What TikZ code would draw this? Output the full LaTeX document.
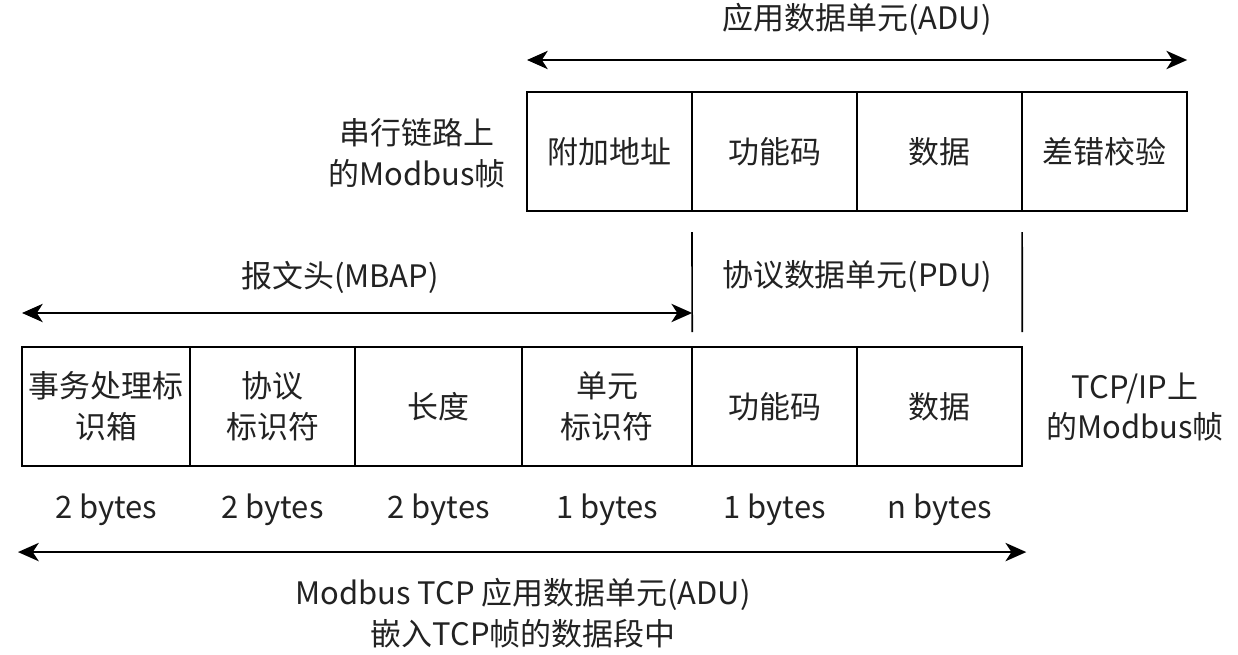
\documentclass[tikz,border=0pt]{standalone}
\usepackage{fontspec}
\usetikzlibrary{arrows.meta,positioning}
\newfontfamily\cjk{Noto Sans CJK SC}
\definecolor{mbink}{HTML}{222222}
\tikzset{
  mb/.style={font=\cjk\fontsize{22}{29}\selectfont, text=mbink},
  mbcell/.style={draw=black, line width=1.2pt, align=center, inner sep=0pt,
    outer sep=0pt, minimum height=2.975cm, minimum width=4.125cm},
  mbarr/.style={<->, >={Stealth[length=5.2mm,width=4.6mm,inset=1.5mm]},
    line width=1.2pt, draw=black},
  mbline/.style={line width=1.2pt, draw=black},
  mblbl/.style={align=center, inner sep=0pt},
}

\begin{document}
\begin{tikzpicture}[mb, x=0.025cm, y=-0.025cm]
  \useasboundingbox[fill=white] (0,0) rectangle (1238,654);
  % serial line frame
  \node[mbcell, anchor=north west] (a1) at (527,92) {附加地址};
  \node[mbcell, right=0pt of a1] (a2) {功能码};
  \node[mbcell, right=0pt of a2] (a3) {数据};
  \node[mbcell, right=0pt of a3] (a4) {差错校验};
  \node[mblbl] (serial) at (417,153) {串行链路上\\的Modbus帧};
  \draw[mbarr] ([yshift=0.8cm]a1.north west) -- ([yshift=0.8cm]a4.north east)
    node[mblbl, midway, above=0.6cm] (adu) {应用数据单元(ADU)};
  % tcp frame
  \node[mbcell, anchor=north west, minimum width=4.2cm] (t1) at (22,347) {事务处理标\\识箱};
  \node[mbcell, right=0pt of t1] (t2) {协议\\标识符};
  \node[mbcell, right=0pt of t2, minimum width=4.175cm] (t3) {长度};
  \node[mbcell, right=0pt of t3, minimum width=4.25cm] (t4) {单元\\标识符};
  \node[mbcell, right=0pt of t4] (t5) {功能码};
  \node[mbcell, right=0pt of t5] (t6) {数据};
  \node[mblbl] (tcp) at (1135,407) {TCP/IP上\\的Modbus帧};
  % PDU bounds
  \draw[mbline] ([yshift=-0.525cm]a2.south west) -- ([yshift=0.375cm]t5.north west);
  \draw[mbline] ([yshift=-0.525cm]a4.south west) -- ([yshift=0.375cm]t6.north east);
  \node[mblbl] (pdu) at (857,277) {协议数据单元(PDU)};
  \draw[mbarr] ([yshift=0.85cm]t1.north west) -- ([yshift=0.85cm]t4.north east);
  \node[mblbl] (mbap) at (340,277) {报文头(MBAP)};
  % byte counts
  \node[mblbl] (b1) at ([yshift=-1.1cm]t1.south) {2 bytes};
  \node[mblbl] (b2) at ([yshift=-1.1cm]t2.south) {2 bytes};
  \node[mblbl] (b3) at ([yshift=-1.1cm]t3.south) {2 bytes};
  \node[mblbl] (b4) at ([yshift=-1.1cm]t4.south) {1 bytes};
  \node[mblbl] (b5) at ([yshift=-1.1cm]t5.south) {1 bytes};
  \node[mblbl] (b6) at ([yshift=-1.1cm]t6.south) {n bytes};
  \draw[mbarr] ([xshift=-0.1cm,yshift=-2.15cm]t1.south west) -- ([xshift=0.1cm,yshift=-2.15cm]t6.south east);
  \node[mblbl] (tcpadu) at (523,613) {Modbus TCP 应用数据单元(ADU)\\嵌入TCP帧的数据段中};
\end{tikzpicture}
\end{document}
